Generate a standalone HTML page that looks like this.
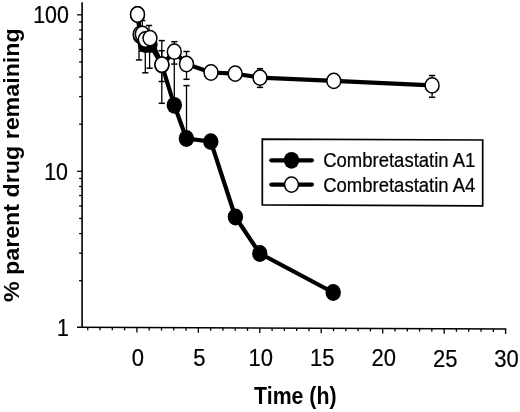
<!DOCTYPE html>
<html><head><meta charset="utf-8"><title>Combretastatin stability</title>
<style>html,body{margin:0;padding:0;background:#fff;width:520px;height:412px;overflow:hidden}svg{display:block}</style>
</head><body>
<svg width="520" height="412" viewBox="0 0 520 412">
<rect width="520" height="412" fill="#fff"/>
<line x1="82.1" y1="2.2" x2="82.1" y2="328.02" stroke="#000" stroke-width="1.6"/>
<line x1="77.0" y1="327.20" x2="506.3" y2="328.96" stroke="#000" stroke-width="1.6"/>
<line x1="79.1" y1="280.69" x2="82.1" y2="280.69" stroke="#000" stroke-width="1.3"/>
<line x1="79.1" y1="253.13" x2="82.1" y2="253.13" stroke="#000" stroke-width="1.3"/>
<line x1="79.1" y1="233.58" x2="82.1" y2="233.58" stroke="#000" stroke-width="1.3"/>
<line x1="79.1" y1="218.41" x2="82.1" y2="218.41" stroke="#000" stroke-width="1.3"/>
<line x1="79.1" y1="206.02" x2="82.1" y2="206.02" stroke="#000" stroke-width="1.3"/>
<line x1="79.1" y1="195.54" x2="82.1" y2="195.54" stroke="#000" stroke-width="1.3"/>
<line x1="79.1" y1="186.47" x2="82.1" y2="186.47" stroke="#000" stroke-width="1.3"/>
<line x1="79.1" y1="178.46" x2="82.1" y2="178.46" stroke="#000" stroke-width="1.3"/>
<line x1="77.1" y1="171.30" x2="82.1" y2="171.30" stroke="#000" stroke-width="1.3"/>
<line x1="79.1" y1="124.19" x2="82.1" y2="124.19" stroke="#000" stroke-width="1.3"/>
<line x1="79.1" y1="96.63" x2="82.1" y2="96.63" stroke="#000" stroke-width="1.3"/>
<line x1="79.1" y1="77.08" x2="82.1" y2="77.08" stroke="#000" stroke-width="1.3"/>
<line x1="79.1" y1="61.91" x2="82.1" y2="61.91" stroke="#000" stroke-width="1.3"/>
<line x1="79.1" y1="49.52" x2="82.1" y2="49.52" stroke="#000" stroke-width="1.3"/>
<line x1="79.1" y1="39.04" x2="82.1" y2="39.04" stroke="#000" stroke-width="1.3"/>
<line x1="79.1" y1="29.97" x2="82.1" y2="29.97" stroke="#000" stroke-width="1.3"/>
<line x1="79.1" y1="21.96" x2="82.1" y2="21.96" stroke="#000" stroke-width="1.3"/>
<line x1="77.1" y1="14.80" x2="82.1" y2="14.80" stroke="#000" stroke-width="1.3"/>
<line x1="87.74" y1="327.25" x2="87.74" y2="330.25" stroke="#000" stroke-width="1.3"/>
<line x1="100.03" y1="327.30" x2="100.03" y2="330.30" stroke="#000" stroke-width="1.3"/>
<line x1="112.32" y1="327.35" x2="112.32" y2="330.35" stroke="#000" stroke-width="1.3"/>
<line x1="124.61" y1="327.40" x2="124.61" y2="330.40" stroke="#000" stroke-width="1.3"/>
<line x1="136.90" y1="327.45" x2="136.90" y2="332.45" stroke="#000" stroke-width="1.3"/>
<line x1="149.19" y1="327.50" x2="149.19" y2="330.50" stroke="#000" stroke-width="1.3"/>
<line x1="161.48" y1="327.55" x2="161.48" y2="330.55" stroke="#000" stroke-width="1.3"/>
<line x1="173.77" y1="327.60" x2="173.77" y2="330.60" stroke="#000" stroke-width="1.3"/>
<line x1="186.06" y1="327.65" x2="186.06" y2="330.65" stroke="#000" stroke-width="1.3"/>
<line x1="198.35" y1="327.70" x2="198.35" y2="332.70" stroke="#000" stroke-width="1.3"/>
<line x1="210.64" y1="327.75" x2="210.64" y2="330.75" stroke="#000" stroke-width="1.3"/>
<line x1="222.93" y1="327.80" x2="222.93" y2="330.80" stroke="#000" stroke-width="1.3"/>
<line x1="235.22" y1="327.85" x2="235.22" y2="330.85" stroke="#000" stroke-width="1.3"/>
<line x1="247.51" y1="327.90" x2="247.51" y2="330.90" stroke="#000" stroke-width="1.3"/>
<line x1="259.80" y1="327.95" x2="259.80" y2="332.95" stroke="#000" stroke-width="1.3"/>
<line x1="272.09" y1="328.00" x2="272.09" y2="331.00" stroke="#000" stroke-width="1.3"/>
<line x1="284.38" y1="328.05" x2="284.38" y2="331.05" stroke="#000" stroke-width="1.3"/>
<line x1="296.67" y1="328.10" x2="296.67" y2="331.10" stroke="#000" stroke-width="1.3"/>
<line x1="308.96" y1="328.16" x2="308.96" y2="331.16" stroke="#000" stroke-width="1.3"/>
<line x1="321.25" y1="328.21" x2="321.25" y2="333.21" stroke="#000" stroke-width="1.3"/>
<line x1="333.54" y1="328.26" x2="333.54" y2="331.26" stroke="#000" stroke-width="1.3"/>
<line x1="345.83" y1="328.31" x2="345.83" y2="331.31" stroke="#000" stroke-width="1.3"/>
<line x1="358.12" y1="328.36" x2="358.12" y2="331.36" stroke="#000" stroke-width="1.3"/>
<line x1="370.41" y1="328.41" x2="370.41" y2="331.41" stroke="#000" stroke-width="1.3"/>
<line x1="382.70" y1="328.46" x2="382.70" y2="333.46" stroke="#000" stroke-width="1.3"/>
<line x1="394.99" y1="328.51" x2="394.99" y2="331.51" stroke="#000" stroke-width="1.3"/>
<line x1="407.28" y1="328.56" x2="407.28" y2="331.56" stroke="#000" stroke-width="1.3"/>
<line x1="419.57" y1="328.61" x2="419.57" y2="331.61" stroke="#000" stroke-width="1.3"/>
<line x1="431.86" y1="328.66" x2="431.86" y2="331.66" stroke="#000" stroke-width="1.3"/>
<line x1="444.15" y1="328.71" x2="444.15" y2="333.71" stroke="#000" stroke-width="1.3"/>
<line x1="456.44" y1="328.76" x2="456.44" y2="331.76" stroke="#000" stroke-width="1.3"/>
<line x1="468.73" y1="328.81" x2="468.73" y2="331.81" stroke="#000" stroke-width="1.3"/>
<line x1="481.02" y1="328.86" x2="481.02" y2="331.86" stroke="#000" stroke-width="1.3"/>
<line x1="493.31" y1="328.91" x2="493.31" y2="331.91" stroke="#000" stroke-width="1.3"/>
<line x1="505.60" y1="328.96" x2="505.60" y2="333.96" stroke="#000" stroke-width="1.3"/>
<text transform="translate(68.90,22.70) scale(1.0,1.1)" text-anchor="end" font-size="21.4" stroke="#000" stroke-width="0.2" style="font-family:'Liberation Sans',Arial,sans-serif">100</text>
<text transform="translate(68.00,179.80) scale(1.0,1.1)" text-anchor="end" font-size="21.4" stroke="#000" stroke-width="0.2" style="font-family:'Liberation Sans',Arial,sans-serif">10</text>
<text transform="translate(68.90,335.70) scale(1.0,1.1)" text-anchor="end" font-size="21.4" stroke="#000" stroke-width="0.2" style="font-family:'Liberation Sans',Arial,sans-serif">1</text>
<text transform="translate(137.90,366.00) scale(1.0,1.1)" text-anchor="middle" font-size="22" stroke="#000" stroke-width="0.2" style="font-family:'Liberation Sans',Arial,sans-serif">0</text>
<text transform="translate(199.35,366.12) scale(1.0,1.1)" text-anchor="middle" font-size="22" stroke="#000" stroke-width="0.2" style="font-family:'Liberation Sans',Arial,sans-serif">5</text>
<text transform="translate(260.80,366.23) scale(1.0,1.1)" text-anchor="middle" font-size="22" stroke="#000" stroke-width="0.2" style="font-family:'Liberation Sans',Arial,sans-serif">10</text>
<text transform="translate(322.25,366.35) scale(1.0,1.1)" text-anchor="middle" font-size="22" stroke="#000" stroke-width="0.2" style="font-family:'Liberation Sans',Arial,sans-serif">15</text>
<text transform="translate(383.70,366.47) scale(1.0,1.1)" text-anchor="middle" font-size="22" stroke="#000" stroke-width="0.2" style="font-family:'Liberation Sans',Arial,sans-serif">20</text>
<text transform="translate(445.15,366.58) scale(1.0,1.1)" text-anchor="middle" font-size="22" stroke="#000" stroke-width="0.2" style="font-family:'Liberation Sans',Arial,sans-serif">25</text>
<text transform="translate(506.60,366.70) scale(1.0,1.1)" text-anchor="middle" font-size="22" stroke="#000" stroke-width="0.2" style="font-family:'Liberation Sans',Arial,sans-serif">30</text>
<text transform="translate(295.30,404.00) scale(1.0,1.09)" text-anchor="middle" font-size="21.3" font-weight="bold" style="font-family:'Liberation Sans',Arial,sans-serif">Time (h)</text>
<text transform="translate(18.70,165.20) rotate(-90) scale(1.029,1.0)" text-anchor="middle" font-size="22.6" font-weight="bold" style="font-family:'Liberation Sans',Arial,sans-serif">% parent drug remaining</text>
<line x1="145.30" y1="44.50" x2="145.30" y2="72.80" stroke="#000" stroke-width="1.3"/>
<line x1="142.20" y1="72.80" x2="148.40" y2="72.80" stroke="#000" stroke-width="1.5"/>
<line x1="149.60" y1="44.50" x2="149.60" y2="68.20" stroke="#000" stroke-width="1.3"/>
<line x1="146.50" y1="68.20" x2="152.70" y2="68.20" stroke="#000" stroke-width="1.5"/>
<line x1="161.80" y1="65.00" x2="161.80" y2="40.60" stroke="#000" stroke-width="1.3"/>
<line x1="158.70" y1="40.60" x2="164.90" y2="40.60" stroke="#000" stroke-width="1.5"/>
<line x1="161.80" y1="65.00" x2="161.80" y2="103.30" stroke="#000" stroke-width="1.3"/>
<line x1="158.70" y1="103.30" x2="164.90" y2="103.30" stroke="#000" stroke-width="1.5"/>
<line x1="174.30" y1="105.30" x2="174.30" y2="52.00" stroke="#000" stroke-width="1.3"/>
<line x1="171.20" y1="52.00" x2="177.40" y2="52.00" stroke="#000" stroke-width="1.5"/>
<line x1="186.50" y1="138.50" x2="186.50" y2="85.60" stroke="#000" stroke-width="1.3"/>
<line x1="183.40" y1="85.60" x2="189.60" y2="85.60" stroke="#000" stroke-width="1.5"/>
<polyline points="137.50,14.50 140.30,35.50 142.30,37.00 145.50,44.50 150.00,44.50 161.90,65.00 174.30,105.30 186.40,138.50 210.80,141.60 235.40,217.00 259.80,253.50 333.20,292.50" fill="none" stroke="#000" stroke-width="4.2" stroke-linejoin="round" stroke-linecap="round"/>
<ellipse cx="137.50" cy="14.50" rx="7.7" ry="8.4" fill="#000"/>
<ellipse cx="140.30" cy="35.50" rx="7.7" ry="8.4" fill="#000"/>
<ellipse cx="142.30" cy="37.00" rx="7.7" ry="8.4" fill="#000"/>
<ellipse cx="145.50" cy="44.50" rx="7.7" ry="8.4" fill="#000"/>
<ellipse cx="150.00" cy="44.50" rx="7.7" ry="8.4" fill="#000"/>
<ellipse cx="161.90" cy="65.00" rx="7.7" ry="8.4" fill="#000"/>
<ellipse cx="174.30" cy="105.30" rx="7.7" ry="8.4" fill="#000"/>
<ellipse cx="186.40" cy="138.50" rx="7.7" ry="8.4" fill="#000"/>
<ellipse cx="210.80" cy="141.60" rx="7.7" ry="8.4" fill="#000"/>
<ellipse cx="235.40" cy="217.00" rx="7.7" ry="8.4" fill="#000"/>
<ellipse cx="259.80" cy="253.50" rx="7.7" ry="8.4" fill="#000"/>
<ellipse cx="333.20" cy="292.50" rx="7.7" ry="8.4" fill="#000"/>
<line x1="139.00" y1="34.00" x2="139.00" y2="59.90" stroke="#000" stroke-width="1.3"/>
<line x1="135.90" y1="59.90" x2="142.10" y2="59.90" stroke="#000" stroke-width="1.5"/>
<line x1="140.30" y1="34.00" x2="140.30" y2="15.50" stroke="#000" stroke-width="1.3"/>
<line x1="137.20" y1="15.50" x2="143.40" y2="15.50" stroke="#000" stroke-width="1.5"/>
<line x1="142.30" y1="34.00" x2="142.30" y2="20.50" stroke="#000" stroke-width="1.3"/>
<line x1="139.20" y1="20.50" x2="145.40" y2="20.50" stroke="#000" stroke-width="1.5"/>
<line x1="142.30" y1="34.00" x2="142.30" y2="51.10" stroke="#000" stroke-width="1.3"/>
<line x1="139.20" y1="51.10" x2="145.40" y2="51.10" stroke="#000" stroke-width="1.5"/>
<line x1="149.00" y1="38.10" x2="149.00" y2="25.50" stroke="#000" stroke-width="1.3"/>
<line x1="145.90" y1="25.50" x2="152.10" y2="25.50" stroke="#000" stroke-width="1.5"/>
<line x1="161.70" y1="64.70" x2="161.70" y2="50.70" stroke="#000" stroke-width="1.3"/>
<line x1="158.60" y1="50.70" x2="164.80" y2="50.70" stroke="#000" stroke-width="1.5"/>
<line x1="161.70" y1="64.70" x2="161.70" y2="81.50" stroke="#000" stroke-width="1.3"/>
<line x1="158.60" y1="81.50" x2="164.80" y2="81.50" stroke="#000" stroke-width="1.5"/>
<line x1="174.30" y1="51.70" x2="174.30" y2="41.70" stroke="#000" stroke-width="1.3"/>
<line x1="171.20" y1="41.70" x2="177.40" y2="41.70" stroke="#000" stroke-width="1.5"/>
<line x1="174.30" y1="51.70" x2="174.30" y2="64.10" stroke="#000" stroke-width="1.3"/>
<line x1="171.20" y1="64.10" x2="177.40" y2="64.10" stroke="#000" stroke-width="1.5"/>
<line x1="186.50" y1="64.00" x2="186.50" y2="51.50" stroke="#000" stroke-width="1.3"/>
<line x1="183.40" y1="51.50" x2="189.60" y2="51.50" stroke="#000" stroke-width="1.5"/>
<line x1="186.50" y1="64.00" x2="186.50" y2="79.30" stroke="#000" stroke-width="1.3"/>
<line x1="183.40" y1="79.30" x2="189.60" y2="79.30" stroke="#000" stroke-width="1.5"/>
<line x1="260.00" y1="77.60" x2="260.00" y2="68.70" stroke="#000" stroke-width="1.3"/>
<line x1="256.90" y1="68.70" x2="263.10" y2="68.70" stroke="#000" stroke-width="1.5"/>
<line x1="260.00" y1="77.60" x2="260.00" y2="87.40" stroke="#000" stroke-width="1.3"/>
<line x1="256.90" y1="87.40" x2="263.10" y2="87.40" stroke="#000" stroke-width="1.5"/>
<line x1="432.10" y1="85.40" x2="432.10" y2="75.50" stroke="#000" stroke-width="1.3"/>
<line x1="429.00" y1="75.50" x2="435.20" y2="75.50" stroke="#000" stroke-width="1.5"/>
<line x1="432.10" y1="85.40" x2="432.10" y2="97.30" stroke="#000" stroke-width="1.3"/>
<line x1="429.00" y1="97.30" x2="435.20" y2="97.30" stroke="#000" stroke-width="1.5"/>
<polyline points="137.50,14.50 140.30,34.00 142.30,34.00 145.30,39.50 150.00,38.10 161.90,64.70 174.30,51.70 186.50,64.00 211.00,72.50 235.20,73.70 260.00,77.60 333.80,80.90 432.10,85.40" fill="none" stroke="#000" stroke-width="4.2" stroke-linejoin="round" stroke-linecap="round"/>
<ellipse cx="137.50" cy="14.50" rx="6.95" ry="7.65" fill="#fff" stroke="#000" stroke-width="1.5"/>
<ellipse cx="140.30" cy="34.00" rx="6.95" ry="7.65" fill="#fff" stroke="#000" stroke-width="1.5"/>
<ellipse cx="142.30" cy="34.00" rx="6.95" ry="7.65" fill="#fff" stroke="#000" stroke-width="1.5"/>
<ellipse cx="145.30" cy="39.50" rx="6.95" ry="7.65" fill="#fff" stroke="#000" stroke-width="1.5"/>
<ellipse cx="150.00" cy="38.10" rx="6.95" ry="7.65" fill="#fff" stroke="#000" stroke-width="1.5"/>
<ellipse cx="161.90" cy="64.70" rx="6.95" ry="7.65" fill="#fff" stroke="#000" stroke-width="1.5"/>
<ellipse cx="174.30" cy="51.70" rx="6.95" ry="7.65" fill="#fff" stroke="#000" stroke-width="1.5"/>
<ellipse cx="186.50" cy="64.00" rx="6.95" ry="7.65" fill="#fff" stroke="#000" stroke-width="1.5"/>
<ellipse cx="211.00" cy="72.50" rx="6.95" ry="7.65" fill="#fff" stroke="#000" stroke-width="1.5"/>
<ellipse cx="235.20" cy="73.70" rx="6.95" ry="7.65" fill="#fff" stroke="#000" stroke-width="1.5"/>
<ellipse cx="260.00" cy="77.60" rx="6.95" ry="7.65" fill="#fff" stroke="#000" stroke-width="1.5"/>
<ellipse cx="333.80" cy="80.90" rx="6.95" ry="7.65" fill="#fff" stroke="#000" stroke-width="1.5"/>
<ellipse cx="432.10" cy="85.40" rx="6.95" ry="7.65" fill="#fff" stroke="#000" stroke-width="1.5"/>
<polygon points="262.3,139.2 482.7,140.0 482.7,205.8 262.3,204.95" fill="#fff" stroke="#000" stroke-width="1.7"/>
<line x1="271.3" y1="160.3" x2="311.9" y2="160.3" stroke="#000" stroke-width="4.2" stroke-linecap="round"/>
<ellipse cx="291.5" cy="160.3" rx="7.7" ry="8.4" fill="#000"/>
<text transform="translate(323.20,167.40) scale(1.0,1.14)" text-anchor="start" font-size="18.5" stroke="#000" stroke-width="0.2" style="font-family:'Liberation Sans',Arial,sans-serif">Combretastatin A1</text>
<line x1="271.3" y1="184.6" x2="311.9" y2="184.6" stroke="#000" stroke-width="4.2" stroke-linecap="round"/>
<ellipse cx="291.5" cy="184.6" rx="6.95" ry="7.65" fill="#fff" stroke="#000" stroke-width="1.5"/>
<text transform="translate(323.20,192.40) scale(1.0,1.14)" text-anchor="start" font-size="18.5" stroke="#000" stroke-width="0.2" style="font-family:'Liberation Sans',Arial,sans-serif">Combretastatin A4</text>
</svg>
</body></html>
